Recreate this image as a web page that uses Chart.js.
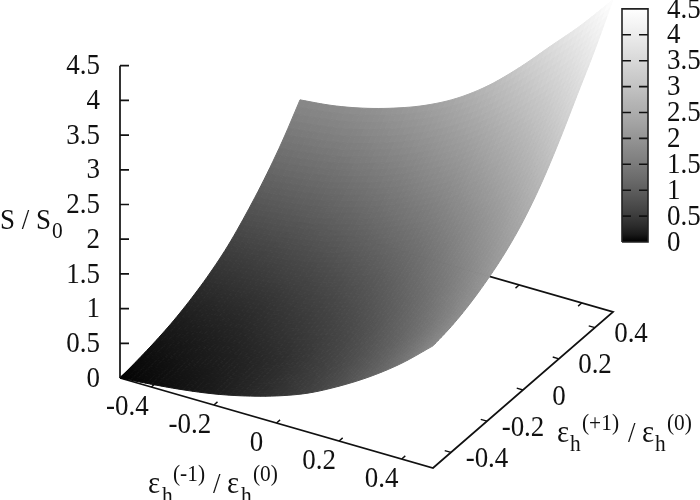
<!DOCTYPE html>
<html><head><meta charset="utf-8">
<style>html,body{margin:0;padding:0;background:#fff}canvas{display:block}</style>
<script src="https://cdn.jsdelivr.net/npm/chart.js@4"></script>
</head><body><canvas id="c" width="700" height="500"></canvas>
<script>
const xValues=[-0.5,-0.4,-0.3,-0.2,-0.1,0,0.1,0.2,0.3,0.4,0.5];
const yValues=[-0.5,-0.4,-0.3,-0.2,-0.1,0,0.1,0.2,0.3,0.4,0.5];
const s0=[0,.04,.09,.16,.26,.39,.56,.79,1.06,1.38,1.76];
const s1=[.04,.08,.13,.20,.30,.44,.61,.84,1.11,1.44,1.81];
const s2=[.09,.13,.18,.25,.35,.50,.68,.91,1.19,1.52,1.90];
const s3=[.16,.20,.25,.34,.45,.59,.77,1.02,1.31,1.65,2.03];
const s4=[.26,.30,.35,.45,.56,.71,.91,1.16,1.46,1.81,2.20];
const s5=[.39,.44,.50,.59,.71,.87,1.08,1.35,1.66,2.02,2.43];
const s6=[.56,.61,.68,.77,.91,1.08,1.29,1.57,1.90,2.28,2.74];
const s7=[.79,.84,.91,1.02,1.16,1.35,1.57,1.87,2.22,2.62,3.13];
const s8=[1.06,1.11,1.19,1.31,1.46,1.66,1.90,2.22,2.58,3.02,3.57];
const s9=[1.38,1.44,1.52,1.65,1.81,2.02,2.28,2.62,3.02,3.47,4.01];
const s10=[1.76,1.81,1.90,2.03,2.20,2.43,2.74,3.13,3.57,4.01,4.50];
const sRows=[s0,s1,s2,s3,s4,s5,s6,s7,s8,s9,s10];
const xTicks=[-0.4,-0.2,0,0.2,0.4];
const yTicks=[-0.4,-0.2,0,0.2,0.4];
const zTicks=[0,0.5,1,1.5,2,2.5,3,3.5,4,4.5];
const cbTicks=[0,0.5,1,1.5,2,2.5,3,3.5,4,4.5];
const FONT='"Liberation Serif","Times New Roman",serif';
const GAMMA=1.5;

function P(x,y,z){return {x:120+313*(x+.5)+180*(y+.5),y:378+90*(x+.5)-156*(y+.5)-69.4*z};}
function cb(v){return 242-51.8*v;}
const gap={x:NaN,y:NaN};
function seg(list,a,b){list.push(a,b,gap);}

const surfacePts=[];
xValues.forEach((x,i)=>yValues.forEach((y,j)=>surfacePts.push(P(x,y,sRows[i][j]))));
const basePts=[P(-.5,-.5,0),P(.5,-.5,0),P(.5,.5,0),P(-.5,.5,0),P(-.5,-.5,0)];
const tickPts=[];
xTicks.forEach(t=>{seg(tickPts,P(t,-.5,0),P(t,-.48,0));seg(tickPts,P(t,.5,0),P(t,.48,0));});
yTicks.forEach(t=>{seg(tickPts,P(.5,t,0),P(.48,t,0));seg(tickPts,P(-.5,t,0),P(-.48,t,0));});
const zAxisPts=[P(-.5,-.5,4.5),P(-.5,-.5,0)];
const zTickPts=[];
zTicks.forEach(t=>{const p=P(-.5,-.5,t);seg(zTickPts,p,{x:p.x+9,y:p.y});});
const cbL=622,cbR=648;
const cbBox=[{x:cbL,y:cb(0)},{x:cbR,y:cb(0)},{x:cbR,y:cb(4.5)},{x:cbL,y:cb(4.5)},{x:cbL,y:cb(0)}];
const cbTickPts=[];
cbTicks.slice(1,-1).forEach(t=>{seg(cbTickPts,{x:cbL,y:cb(t)},{x:cbL+9,y:cb(t)});seg(cbTickPts,{x:cbR-9,y:cb(t)},{x:cbR,y:cb(t)});});

const lineDs=(data,w)=>({data,showLine:true,borderColor:'#111',borderWidth:w,pointRadius:0,fill:false,tension:0});

function grey(v){const t=Math.max(0,Math.min(1,v/4.5));const g=Math.round(255*Math.pow(t,1/GAMMA));return `rgb(${g},${g},${g})`;}

/* smooth shading of the facets between the table's vertices (paint-time only) */
function crom(a,b,c,d,t){return .5*(2*b+(c-a)*t+(2*a-5*b+4*c-d)*t*t+(3*b-a-3*c+d)*t*t*t);}
function sampler(get,n,k){
 const g=(i,j)=>{
  if(i<0)return 2*g(0,j)-g(1,j);
  if(i>=n)return 2*g(n-1,j)-g(n-2,j);
  if(j<0)return 2*g(i,0)-g(i,1);
  if(j>=k)return 2*g(i,k-1)-g(i,k-2);
  return get(i,j);
 };
 return (i,u,j,v)=>{
  const col=[];
  for(let a=-1;a<=2;a++)col.push(crom(g(i+a,j-1),g(i+a,j),g(i+a,j+1),g(i+a,j+2),v));
  return crom(col[0],col[1],col[2],col[3],u);
 };
}

const painter={
 id:'painter',
 beforeDatasetsDraw(chart){
  const ctx=chart.ctx,m=chart.getDatasetMeta(4).data;
  const g=ctx.createLinearGradient(0,m[0].y,0,m[2].y);
  for(let i=0;i<=30;i++)g.addColorStop(i/30,grey(4.5*i/30));
  ctx.save();ctx.fillStyle=g;
  ctx.fillRect(m[0].x,m[2].y,m[1].x-m[0].x,m[0].y-m[2].y);ctx.restore();
 },
 afterDatasetDraw(chart,args){
  if(args.index!==1)return;
  const ctx=chart.ctx,m=chart.getDatasetMeta(1).data,n=xValues.length,k=yValues.length,SUB=6;
  const fx=sampler((i,j)=>m[i*k+j].x,n,k),fy=sampler((i,j)=>m[i*k+j].y,n,k),fs=sampler((i,j)=>sRows[i][j],n,k);
  const N=(n-1)*SUB+1,K=(k-1)*SUB+1,L=[];
  const split=(t,c)=>{let i=Math.floor(t/SUB);if(i>=c-1)i=c-2;return [i,(t-i*SUB)/SUB];};
  for(let a=0;a<N;a++){const [i,u]=split(a,n);L[a]=[];
   for(let b=0;b<K;b++){const [j,v]=split(b,k);L[a][b]={x:fx(i,u,j,v),y:fy(i,u,j,v),s:fs(i,u,j,v)};}}
  ctx.save();ctx.lineWidth=1;ctx.lineJoin='round';
  for(let b=K-2;b>=0;b--)for(let a=0;a<N-1;a++){
   const p=L[a][b],q=L[a+1][b],r=L[a+1][b+1],t=L[a][b+1];
   const col=grey((p.s+q.s+r.s+t.s)/4);
   ctx.fillStyle=col;ctx.strokeStyle=col;
   ctx.beginPath();ctx.moveTo(p.x,p.y);ctx.lineTo(q.x,q.y);ctx.lineTo(r.x,r.y);ctx.lineTo(t.x,t.y);ctx.closePath();
   ctx.fill();ctx.stroke();
  }
  ctx.restore();
 },
 afterDraw(chart){
  const ctx=chart.ctx,sx=chart.scales.x,sy=chart.scales.y;
  const px=p=>({x:sx.getPixelForValue(p.x),y:sy.getPixelForValue(p.y)});
  const put=(t,x,y,size,al,bl)=>{ctx.save();ctx.translate(x,y);ctx.scale(.93,1);ctx.font=`${size}px ${FONT}`;ctx.textAlign=al||'center';ctx.textBaseline=bl||'middle';ctx.fillText(t,0,0);ctx.restore();};
  ctx.save();ctx.fillStyle='#111';
  zTicks.forEach(t=>{const p=px(P(-.5,-.5,t));put(String(t),100,p.y+1,29,'right');});
  cbTicks.forEach(t=>{put(String(t),667,px({x:0,y:cb(t)}).y+1,29,'left');});
  xTicks.forEach(t=>{const p=px(P(t,-.5,0));put(String(t),p.x-(t<0?24:20),p.y+20,29);});
  yTicks.forEach(t=>{const p=px(P(.5,t,0));put(String(t),p.x+36,p.y+7,29);});
  const runs=(list)=>list.forEach(r=>put(r[0],r[1],r[2],r[3],'left','alphabetic'));
  runs([['S / S',0,229,29],['0',52,238,23]]);
  runs([['ε',148,493,31],['h',162,503,23],['(-1)',173,481,23],['/',213,493,29],
        ['ε',227,493,31],['h',241,503,23],['(0)',253,481,23]]);
  runs([['ε',557,442,31],['h',570,451,23],['(+1)',582,430,23],['/',628,442,29],
        ['ε',642,442,31],['h',655,451,23],['(0)',667,430,23]]);
  ctx.restore();
 }
};

new Chart(document.getElementById('c'),{
 type:'scatter',
 data:{datasets:[
  lineDs(zAxisPts,1.7),
  {data:surfacePts,pointRadius:0,showLine:false},
  lineDs(basePts,1.8),
  lineDs(tickPts,1.4),
  Object.assign(lineDs(cbBox,1.6),{borderColor:'#222'}),
  lineDs(cbTickPts,1.6),
  lineDs(zTickPts,1.7)
 ]},
 options:{responsive:false,animation:false,
  layout:{padding:0},
  plugins:{legend:{display:false},tooltip:{enabled:false}},
  scales:{x:{type:'linear',min:0,max:700,display:false},y:{type:'linear',min:0,max:500,reverse:true,display:false}}
 },
 plugins:[painter]
});
</script></body></html>
